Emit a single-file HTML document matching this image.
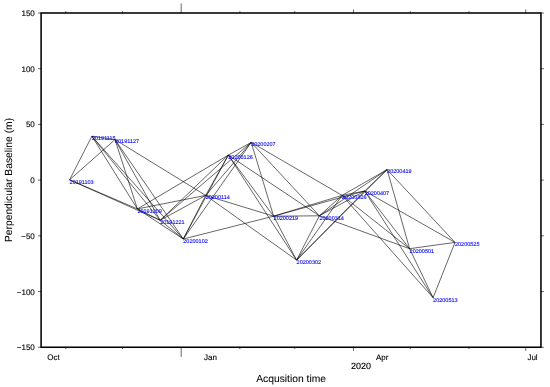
<!DOCTYPE html><html><head><meta charset="utf-8"><style>html,body{margin:0;padding:0;background:#fff;}svg{display:block;} text{text-rendering:geometricPrecision;}</style></head><body>
<svg width="550" height="387" viewBox="0 0 550 387" font-family="Liberation Sans, Arial, Helvetica, sans-serif">
<rect width="550" height="387" fill="#fff"/>
<g stroke="#000" stroke-width="0.6" fill="none">
<line x1="69.6" y1="179.8" x2="91.9" y2="136.2"/>
<line x1="69.6" y1="179.8" x2="115.0" y2="139.6"/>
<line x1="69.6" y1="179.8" x2="137.4" y2="208.9"/>
<line x1="69.6" y1="179.8" x2="160.2" y2="220.3"/>
<line x1="91.9" y1="136.2" x2="115.0" y2="139.6"/>
<line x1="91.9" y1="136.2" x2="137.4" y2="208.9"/>
<line x1="91.9" y1="136.2" x2="160.2" y2="220.3"/>
<line x1="91.9" y1="136.2" x2="183.3" y2="239.0"/>
<line x1="115.0" y1="139.6" x2="137.4" y2="208.9"/>
<line x1="115.0" y1="139.6" x2="160.2" y2="220.3"/>
<line x1="115.0" y1="139.6" x2="183.3" y2="239.0"/>
<line x1="115.0" y1="139.6" x2="205.7" y2="195.4"/>
<line x1="137.4" y1="208.9" x2="160.2" y2="220.3"/>
<line x1="137.4" y1="208.9" x2="183.3" y2="239.0"/>
<line x1="137.4" y1="208.9" x2="205.7" y2="195.4"/>
<line x1="137.4" y1="208.9" x2="228.3" y2="155.1"/>
<line x1="160.2" y1="220.3" x2="183.3" y2="239.0"/>
<line x1="160.2" y1="220.3" x2="205.7" y2="195.4"/>
<line x1="160.2" y1="220.3" x2="228.3" y2="155.1"/>
<line x1="160.2" y1="220.3" x2="251.2" y2="142.4"/>
<line x1="183.3" y1="239.0" x2="205.7" y2="195.4"/>
<line x1="183.3" y1="239.0" x2="228.3" y2="155.1"/>
<line x1="183.3" y1="239.0" x2="251.2" y2="142.4"/>
<line x1="183.3" y1="239.0" x2="273.6" y2="216.2"/>
<line x1="205.7" y1="195.4" x2="228.3" y2="155.1"/>
<line x1="205.7" y1="195.4" x2="251.2" y2="142.4"/>
<line x1="205.7" y1="195.4" x2="273.6" y2="216.2"/>
<line x1="205.7" y1="195.4" x2="296.6" y2="260.1"/>
<line x1="228.3" y1="155.1" x2="251.2" y2="142.4"/>
<line x1="228.3" y1="155.1" x2="273.6" y2="216.2"/>
<line x1="228.3" y1="155.1" x2="296.6" y2="260.1"/>
<line x1="228.3" y1="155.1" x2="319.4" y2="215.8"/>
<line x1="251.2" y1="142.4" x2="273.6" y2="216.2"/>
<line x1="251.2" y1="142.4" x2="319.4" y2="215.8"/>
<line x1="251.2" y1="142.4" x2="342.1" y2="195.4"/>
<line x1="273.6" y1="216.2" x2="296.6" y2="260.1"/>
<line x1="273.6" y1="216.2" x2="319.4" y2="215.8"/>
<line x1="273.6" y1="216.2" x2="342.1" y2="195.4"/>
<line x1="273.6" y1="216.2" x2="364.7" y2="191.0"/>
<line x1="296.6" y1="260.1" x2="319.4" y2="215.8"/>
<line x1="296.6" y1="260.1" x2="342.1" y2="195.4"/>
<line x1="296.6" y1="260.1" x2="364.7" y2="191.0"/>
<line x1="296.6" y1="260.1" x2="387.1" y2="169.6"/>
<line x1="319.4" y1="215.8" x2="342.1" y2="195.4"/>
<line x1="319.4" y1="215.8" x2="364.7" y2="191.0"/>
<line x1="319.4" y1="215.8" x2="387.1" y2="169.6"/>
<line x1="319.4" y1="215.8" x2="409.6" y2="248.7"/>
<line x1="342.1" y1="195.4" x2="364.7" y2="191.0"/>
<line x1="342.1" y1="195.4" x2="387.1" y2="169.6"/>
<line x1="342.1" y1="195.4" x2="409.6" y2="248.7"/>
<line x1="342.1" y1="195.4" x2="433.1" y2="297.7"/>
<line x1="364.7" y1="191.0" x2="387.1" y2="169.6"/>
<line x1="364.7" y1="191.0" x2="409.6" y2="248.7"/>
<line x1="364.7" y1="191.0" x2="433.1" y2="297.7"/>
<line x1="364.7" y1="191.0" x2="455.0" y2="242.4"/>
<line x1="387.1" y1="169.6" x2="409.6" y2="248.7"/>
<line x1="387.1" y1="169.6" x2="455.0" y2="242.4"/>
<line x1="409.6" y1="248.7" x2="433.1" y2="297.7"/>
<line x1="409.6" y1="248.7" x2="455.0" y2="242.4"/>
<line x1="433.1" y1="297.7" x2="455.0" y2="242.4"/>
</g>
<g fill="#0000ff" font-size="5.5" stroke="#0000ff" stroke-width="0.1">
<text x="69.6" y="183.6">20191103</text>
<text x="91.9" y="140.0">20191115</text>
<text x="115.0" y="143.4">20191127</text>
<text x="137.4" y="212.7">20191209</text>
<text x="160.2" y="224.1">20191221</text>
<text x="183.3" y="242.8">20200102</text>
<text x="205.7" y="199.2">20200114</text>
<text x="228.3" y="158.9">20200126</text>
<text x="251.2" y="146.2">20200207</text>
<text x="273.6" y="220.0">20200219</text>
<text x="296.6" y="263.9">20200302</text>
<text x="319.4" y="219.6">20200314</text>
<text x="342.1" y="199.2">20200326</text>
<text x="364.7" y="194.8">20200407</text>
<text x="387.1" y="173.4">20200419</text>
<text x="409.6" y="252.5">20200501</text>
<text x="433.1" y="301.5">20200513</text>
<text x="455.0" y="246.2">20200525</text>
</g>
<g stroke="#000" stroke-width="0.6">
<line x1="37.9" y1="347.25" x2="41.1" y2="347.25"/>
<line x1="540.95" y1="347.25" x2="543.95" y2="347.25"/>
<line x1="37.9" y1="291.54" x2="41.1" y2="291.54"/>
<line x1="540.95" y1="291.54" x2="543.95" y2="291.54"/>
<line x1="37.9" y1="235.83" x2="41.1" y2="235.83"/>
<line x1="540.95" y1="235.83" x2="543.95" y2="235.83"/>
<line x1="37.9" y1="180.12" x2="41.1" y2="180.12"/>
<line x1="540.95" y1="180.12" x2="543.95" y2="180.12"/>
<line x1="37.9" y1="124.42" x2="41.1" y2="124.42"/>
<line x1="540.95" y1="124.42" x2="543.95" y2="124.42"/>
<line x1="37.9" y1="68.71" x2="41.1" y2="68.71"/>
<line x1="540.95" y1="68.71" x2="543.95" y2="68.71"/>
<line x1="37.9" y1="13.00" x2="41.1" y2="13.00"/>
<line x1="540.95" y1="13.00" x2="543.95" y2="13.00"/>
<line x1="65.73" y1="347.25" x2="65.73" y2="349.15"/>
<line x1="65.73" y1="13.0" x2="65.73" y2="11.1"/>
<line x1="122.52" y1="347.25" x2="122.52" y2="349.15"/>
<line x1="122.52" y1="13.0" x2="122.52" y2="11.1"/>
<line x1="239.88" y1="347.25" x2="239.88" y2="349.15"/>
<line x1="239.88" y1="13.0" x2="239.88" y2="11.1"/>
<line x1="294.78" y1="347.25" x2="294.78" y2="349.15"/>
<line x1="294.78" y1="13.0" x2="294.78" y2="11.1"/>
<line x1="353.46" y1="347.25" x2="353.46" y2="350.85"/>
<line x1="353.46" y1="13.0" x2="353.46" y2="9.4"/>
<line x1="410.25" y1="347.25" x2="410.25" y2="349.15"/>
<line x1="410.25" y1="13.0" x2="410.25" y2="11.1"/>
<line x1="468.94" y1="347.25" x2="468.94" y2="349.15"/>
<line x1="468.94" y1="13.0" x2="468.94" y2="11.1"/>
<line x1="525.73" y1="347.25" x2="525.73" y2="350.85"/>
<line x1="525.73" y1="13.0" x2="525.73" y2="9.4"/>
<line x1="181.20" y1="347.25" x2="181.20" y2="356.85"/>
<line x1="181.20" y1="13.0" x2="181.20" y2="3.5"/>
</g>
<rect x="41.1" y="13.0" width="499.85" height="334.25" fill="none" stroke="#000" stroke-width="1.55"/>
<g fill="#000" font-size="8" text-anchor="end" stroke="#000" stroke-width="0.12">
<text x="34.8" y="350.15">−150</text>
<text x="34.8" y="294.60">−100</text>
<text x="34.8" y="238.70">−50</text>
<text x="34.8" y="182.70">0</text>
<text x="34.8" y="127.05">50</text>
<text x="34.8" y="71.65">100</text>
<text x="34.8" y="15.60">150</text>
</g>
<g fill="#000" font-size="8" text-anchor="middle" stroke="#000" stroke-width="0.12">
<text x="53.4" y="359.8">Oct</text>
<text x="210.4" y="359.8">Jan</text>
<text x="382.2" y="359.8">Apr</text>
<text x="532.5" y="359.8">Jul</text>
<text x="361" y="369.4" font-size="9">2020</text>
</g>
<text x="291.1" y="381.7" font-size="10.3" text-anchor="middle" stroke="#000" stroke-width="0.05">Acqusition time</text>
<text transform="translate(11.9,180) rotate(-90)" font-size="10.3" text-anchor="middle" stroke="#000" stroke-width="0.05">Perpendicular Baseline (m)</text>
</svg></body></html>
